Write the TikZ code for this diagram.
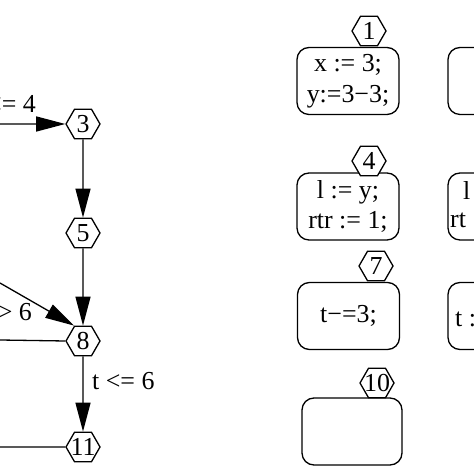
\documentclass[tikz,border=0pt]{standalone}
\usepackage{fontspec}
\setmainfont{Liberation Serif}
\usetikzlibrary{shapes.geometric}
\usetikzlibrary{arrows.meta}

\begin{document}
\begin{tikzpicture}[
    x=1bp, y=1bp,
    every node/.style={font=\fontsize{26}{31}\selectfont},
    hex/.style={regular polygon, regular polygon sides=6, draw, line width=1.3bp,
      minimum size=34bp, inner sep=-8bp, fill=white},
    stmt/.style={rectangle, draw, rounded corners=12bp, line width=1.3bp,
      align=center, inner sep=0pt, minimum width=102bp, minimum height=67bp},
    cond/.style={inner sep=0pt},
    edge/.style={line width=1.3bp, -{Triangle[length=29bp, width=15bp]}},
    plain/.style={line width=1.3bp},
  ]
  \clip (0,0) rectangle (474,474);

  % control flow graph
  \coordinate (in3) at (0, 350);
  \coordinate (in8) at (0, 191);
  \coordinate (out8) at (0, 134);
  \coordinate (out11) at (0, 27);

  \node[hex] (h3) at (83, 350) {3};
  \node[hex] (h5) at (83, 241) {5};
  \node[hex] (h8) at (83, 133) {8};
  \node[hex] (h11) at (83, 27) {11};

  \draw[edge] (in3) -- (h3);
  \draw[edge] (h3) -- (h5);
  \draw[edge] (h5) -- (h8);
  \draw[edge] (in8) -- (h8.120);
  \draw[plain] (h8.west) -- (out8);
  \draw[edge] (h8) -- (h11);
  \draw[plain] (h11.west) -- (out11);

  % edge conditions
  \node[cond, anchor=base east] (c4) at (36, 361) {t <= 4};
  \node[cond, anchor=base east] (c6a) at (32, 153) {t > 6};
  \node[cond, anchor=base west] (c6b) at (92, 84) {t <= 6};

  % basic blocks
  \node[stmt] (b1) at (348, 393) {x := 3;\\y:=3−3;};
  \node[stmt] (b2) at (499, 393) {};
  \node[stmt] (b4) at (348, 267.5) {l := y;\\rtr := 1;};
  \node[stmt] (b5) at (499, 267.5) {};
  \node[stmt] (b7) at (348.5, 158) {t−=3;};
  \node[stmt] (b8) at (499, 158) {};
  \node[stmt, minimum width=100bp] (b10) at (352, 42.5) {};

  \node[cond, anchor=base west] (t5a) at (463, 274) {l};
  \node[cond, anchor=base west] (t5b) at (450, 246) {rt};
  \node[cond, anchor=base west] (t8) at (455, 147) {t :};

  % block numbers
  \node[hex] (h1) at (369, 443) {1};
  \node[hex] (h4) at (369, 313) {4};
  \node[hex] (h7) at (376, 208) {7};
  \node[hex] (h10) at (377, 91) {10};

\end{tikzpicture}
\end{document}
